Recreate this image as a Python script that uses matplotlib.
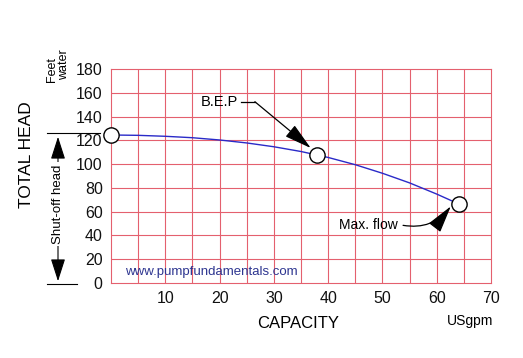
import matplotlib
matplotlib.use("Agg")
import matplotlib.pyplot as plt
from matplotlib.patches import FancyArrowPatch

plt.rcParams['font.family'] = ['Liberation Sans', 'DejaVu Sans']

# Data
capacity = [0, 5, 10, 15, 20, 25, 30, 35, 40, 45, 50, 55, 60, 64.1]
head = [124.5, 124.2, 123.4, 122.2, 120.3, 117.8, 114.6, 110.6, 105.6, 99.5, 92.3, 84.2, 74.8, 66.4]
points_x = [0, 37.9, 64.1]
points_y = [124.5, 107.7, 66.4]
xticks = [10, 20, 30, 40, 50, 60, 70]
yticks = [0, 20, 40, 60, 80, 100, 120, 140, 160, 180]

W, H = 523, 358
fig = plt.figure(figsize=(W / 100, H / 100), dpi=100)
ax = fig.add_axes([111 / W, (H - 283) / H, 380 / W, 214 / H])

grid_c = '#e4606e'
ax.set_xlim(0, 70)
ax.set_ylim(0, 180)
for xv in range(5, 70, 5):
    ax.axvline(xv, color=grid_c, lw=0.8, zorder=1)
for yv in range(20, 180, 20):
    ax.axhline(yv, color=grid_c, lw=0.8, zorder=1)
for s in ax.spines.values():
    s.set_color(grid_c)
    s.set_linewidth(0.8)

ax.set_xticks(xticks)
ax.set_yticks(yticks)
ax.tick_params(length=0, labelsize=11.5, pad=6, colors='#111111')

ax.plot(capacity, head, color='#2a2ac8', lw=1.0, zorder=3, clip_on=False)
ax.plot(points_x, points_y, 'o', ms=11, mfc='white', mec='black', mew=1.0,
        zorder=5, clip_on=False)

arrow_style = '-|>,head_length=1.7,head_width=0.45'

# B.E.P annotation
ax.text(16.6, 152, 'B.E.P', fontsize=10.5, va='center', ha='left')
ax.plot([24.0, 26.5], [152.5, 152.5], color='black', lw=0.9)
ax.annotate('', xy=(36.8, 113.5), xytext=(26.5, 152.5),
            arrowprops=dict(arrowstyle=arrow_style,
                            color='black', lw=0.9, shrinkA=0, shrinkB=0))

# Max flow annotation
ax.text(52.9, 48.5, 'Max. flow', fontsize=10, va='center', ha='right')
ax.annotate('', xy=(62.6, 64.5), xytext=(53.8, 48.5),
            arrowprops=dict(arrowstyle=arrow_style,
                            color='black', lw=0.9, shrinkA=0, shrinkB=0,
                            connectionstyle='arc3,rad=0.3'))

ax.text(2.6, 9.5, 'www.pumpfundamentals.com', fontsize=9.5, color='#2d3590',
        va='center', ha='left')

# Outer labels (figure pixel coordinates)
def fx(px):
    return px / W

def fy(py):
    return 1 - py / H

fig.text(fx(27), fy(155), 'TOTAL HEAD', rotation=90, fontsize=12.5,
         ha='center', va='center')
fig.text(fx(52.5), fy(70), 'Feet', rotation=90, fontsize=9,
         ha='center', va='center')
fig.text(fx(64), fy(65), 'water', rotation=90, fontsize=9,
         ha='center', va='center')
fig.text(fx(298), fy(323), 'CAPACITY', fontsize=12, ha='center', va='center')
fig.text(fx(470), fy(321), 'USgpm', fontsize=10, ha='center', va='center')

# Shut-off head indicator
fig.add_artist(plt.Line2D([fx(47), fx(100)], [fy(133), fy(133)], color='black', lw=0.8))
fig.add_artist(plt.Line2D([fx(47), fx(77)], [fy(284), fy(284)], color='black', lw=0.8))
for end in (134, 284):
    fig.add_artist(FancyArrowPatch(
        (fx(58), fy(205)), (fx(58), fy(end)), transform=fig.transFigure,
        arrowstyle='-|>,head_length=14,head_width=4.5', color='black', lw=0.8,
        mutation_scale=1))
fig.text(fx(58), fy(204), 'Shut-off head', rotation=90, fontsize=9.5,
         ha='center', va='center',
         bbox=dict(facecolor='white', edgecolor='none', pad=1.5))

fig.savefig('out.png', dpi=100)
